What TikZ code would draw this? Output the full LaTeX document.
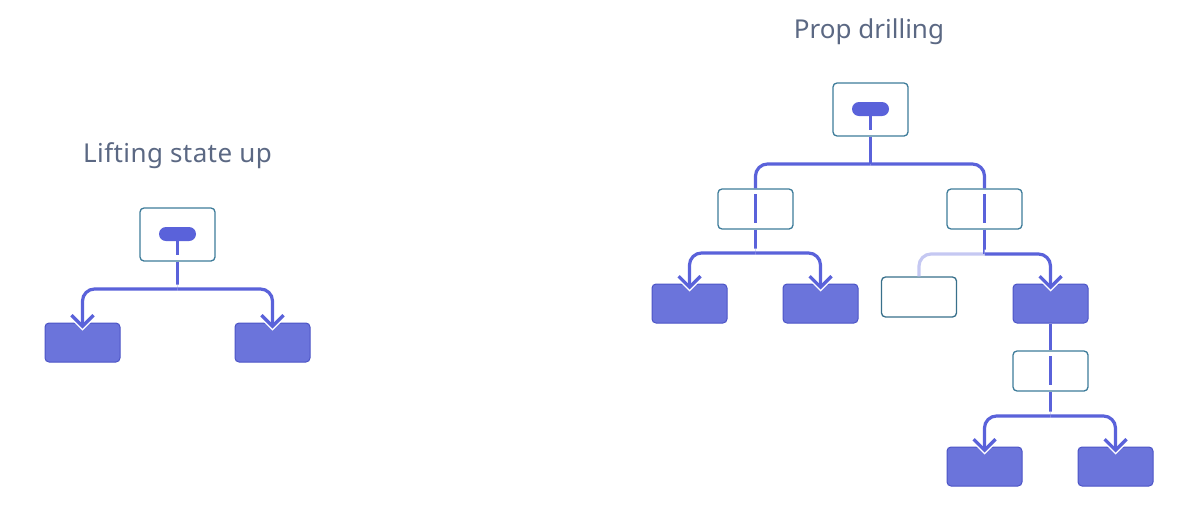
\documentclass[tikz,border=0pt]{standalone}
\usepackage{fontspec}
\setmainfont{Noto Sans}
\usetikzlibrary{arrows.meta}
\definecolor{lineblue}{HTML}{5A62DA}
\definecolor{leaffill}{HTML}{6B74DB}
\definecolor{leafedge}{HTML}{4C54C6}
\definecolor{boxedge}{HTML}{3E7C9A}
\definecolor{fadeline}{HTML}{C5C8F2}
\definecolor{titlegray}{HTML}{5B6883}
\tikzset{
  outbox/.style={draw=boxedge, fill=white, line width=1.3pt, rounded corners=4pt, minimum width=75pt, minimum height=40pt, inner sep=0pt},
  topbox/.style={outbox, minimum height=53pt},
  leafbox/.style={draw=leafedge, fill=leaffill, line width=1pt, rounded corners=4pt, minimum width=75pt, minimum height=39pt, inner sep=0pt},
  pill/.style={fill=lineblue, rounded corners=7pt, minimum width=37pt, minimum height=14pt, inner sep=0pt},
  conn/.style={draw=lineblue, line width=3.2pt, rounded corners=12pt},
  faded/.style={draw=fadeline, line width=3.2pt, rounded corners=12pt},
  halo/.style={draw=white, line width=9pt, rounded corners=12pt, -{Straight Barb[length=11pt,width=22pt]}, shorten >=-2pt},
  arr/.style={conn, -{Straight Barb[length=11pt,width=22pt]}},
  inner/.style={draw=lineblue, line width=3.2pt},
  title/.style={font=\fontsize{26}{30}\selectfont, text=titlegray, anchor=base, inner sep=0pt}
}
\begin{document}
\begin{tikzpicture}[x=1pt,y=-1pt]
\useasboundingbox (0,0) rectangle (1200,520);

% ---------- Left: Lifting state up ----------
\node[title, font=\fontsize{26}{30}\addfontfeatures{LetterSpace=1.5}\selectfont] (t1) at (177.5,162) {Lifting state up};
\node[topbox] (A0) at (177.5,234.5) {};
\node[pill] (A0p) at (177.5,234) {};
\draw[inner] (A0p.south) -- ++(0,14);
\node[leafbox] (A1) at (82.5,342.5) {};
\node[leafbox] (A2) at (272.5,342.5) {};
\coordinate (ja) at (177.5,289);
\draw[conn] (A0.south) -- (ja);
\draw[halo] (ja) -| ([yshift=-6pt]A1.north);
\draw[halo] (ja) -| ([yshift=-6pt]A2.north);
\draw[arr] (ja) -| ([yshift=-6pt]A1.north);
\draw[arr] (ja) -| ([yshift=-6pt]A2.north);

% ---------- Right: Prop drilling ----------
\node[title] (t2) at (869,38) {Prop drilling};
\node[topbox] (R0) at (870.5,109.5) {};
\node[pill] (R0p) at (870.5,109) {};
\draw[inner] (R0p.south) -- ++(0,14);

\node[outbox] (M1) at (755.5,209) {};
\node[outbox] (M2) at (984.5,209) {};
\draw[inner] ([yshift=-6pt]M1.north) -- ([yshift=7pt]M1.south);
\draw[inner] ([yshift=-6pt]M2.north) -- ([yshift=7pt]M2.south);
\coordinate (j0) at (870.5,164);
\draw[conn] (R0.south) -- (j0);
\draw[conn] (j0) -| (M1.north);
\draw[conn] (j0) -| (M2.north);

\node[leafbox] (L1) at (689.5,303.5) {};
\node[leafbox] (L2) at (820.5,303.5) {};
\coordinate (j1) at (755.5,253);
\draw[conn] (M1.south) -- (j1);
\draw[halo] (j1) -| ([yshift=-6pt]L1.north);
\draw[halo] (j1) -| ([yshift=-6pt]L2.north);
\draw[arr] (j1) -| ([yshift=-6pt]L1.north);
\draw[arr] (j1) -| ([yshift=-6pt]L2.north);

\node[outbox, draw=boxedge!90!black] (W) at (919,297) {};
\node[leafbox] (L3) at (1050.5,303.5) {};
\coordinate (j2) at (984.5,254);
\draw[faded] (j2) -| (W.north);
\draw[conn] (M2.south) -- (j2);
\draw[halo] (j2) -| ([yshift=-6pt]L3.north);
\draw[arr] (j2) -| ([yshift=-6pt]L3.north);

\node[outbox] (M3) at (1050.5,371) {};
\draw[inner] ([yshift=-6pt]M3.north) -- ([yshift=7pt]M3.south);
\draw[conn] (L3.south) -- (M3.north);

\node[leafbox] (L4) at (984.5,466.5) {};
\node[leafbox] (L5) at (1115.5,466.5) {};
\coordinate (j3) at (1050.5,416);
\draw[conn] (M3.south) -- (j3);
\draw[halo] (j3) -| ([yshift=-6pt]L4.north);
\draw[halo] (j3) -| ([yshift=-6pt]L5.north);
\draw[arr] (j3) -| ([yshift=-6pt]L4.north);
\draw[arr] (j3) -| ([yshift=-6pt]L5.north);
\end{tikzpicture}
\end{document}
